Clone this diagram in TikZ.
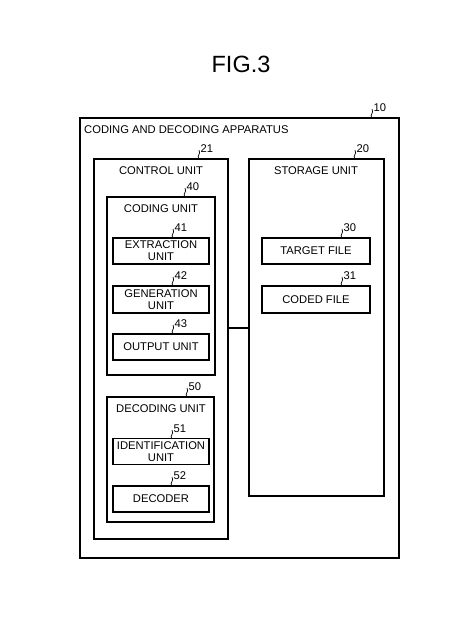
\documentclass[tikz,border=0pt]{standalone}
\usepackage{fontspec}
\setmainfont{Liberation Sans}
\newcommand\lblfont{\fontsize{11.2}{12}\selectfont}
\newcommand\refnum[4]{%
  \draw[thin,line width=0.7pt] (#2,#3) .. controls (#2-3,#3-3) and (#2+2.5,#3-5) .. (#2,#3-9);
  \node[numlbl] (#1) at (#2+1.5,#3-10) {#4};}
\begin{document}
\begin{tikzpicture}[x=1pt,y=-1pt,
  box/.style={draw,line width=1.2pt,inner sep=0pt,align=center,font=\lblfont},
  ttl/.style={inner sep=0pt,font=\lblfont},
  numlbl/.style={anchor=west,inner sep=0pt,font=\lblfont},
  conn/.style={line width=1.2pt}]
\useasboundingbox (0,0) rectangle (474,637);
\node[inner sep=0pt,font=\fontsize{23.5}{26}\selectfont] (fig) at (241,64) {FIG.3};
% outer
\node[box,minimum width=319pt,minimum height=440pt] (app) at (239.5,338) {};
\node[ttl,anchor=west] (appt) at (84,130) {CODING AND DECODING APPARATUS};
\refnum{n10}{372}{118}{10}
% control unit
\node[box,minimum width=134pt,minimum height=380pt] (ctrl) at (161,349) {};
\node[ttl] (ctrlt) at (161,171) {CONTROL UNIT};
\refnum{n21}{199}{159}{21}
% storage unit
\node[box,minimum width=135pt,minimum height=337pt] (stor) at (316.5,327.5) {};
\node[ttl] (stort) at (316,171) {STORAGE UNIT};
\refnum{n20}{355}{159}{20}
% coding unit
\node[box,minimum width=108pt,minimum height=178pt] (cod) at (161,286) {};
\node[ttl] (codt) at (161,209) {CODING UNIT};
\refnum{n40}{185}{197}{40}
\node[box,minimum width=96pt,minimum height=26pt] (ext) at (161,251) {EXTRACTION\\UNIT};
\refnum{n41}{173}{238}{41}
\node[box,minimum width=96pt,minimum height=27pt] (gen) at (161,299.5) {GENERATION\\UNIT};
\refnum{n42}{173}{286}{42}
\node[box,minimum width=96pt,minimum height=26pt] (out) at (161,347) {OUTPUT UNIT};
\refnum{n43}{173}{334}{43}
% decoding unit
\node[box,minimum width=107pt,minimum height=125pt] (dec) at (160.5,459.5) {};
\node[ttl] (dect) at (161,409) {DECODING UNIT};
\refnum{n50}{187}{397}{50}
\node[box,minimum width=96pt,minimum height=26pt] (idu) at (161,451.5) {IDENTIFICATION\\UNIT};
\refnum{n51}{172}{439}{51}
\node[box,minimum width=96pt,minimum height=26pt] (dcr) at (161,499) {DECODER};
\refnum{n52}{172}{486}{52}
% storage contents
\node[box,minimum width=108pt,minimum height=26pt] (tgt) at (316,251) {TARGET FILE};
\refnum{n30}{342}{238}{30}
\node[box,minimum width=108pt,minimum height=27pt] (cdf) at (316,299.5) {CODED FILE};
\refnum{n31}{342}{286}{31}
% connector
\coordinate (mid) at (238,328);
\draw[conn] (mid -| ctrl.east) -- (mid -| stor.west);
\end{tikzpicture}
\end{document}
